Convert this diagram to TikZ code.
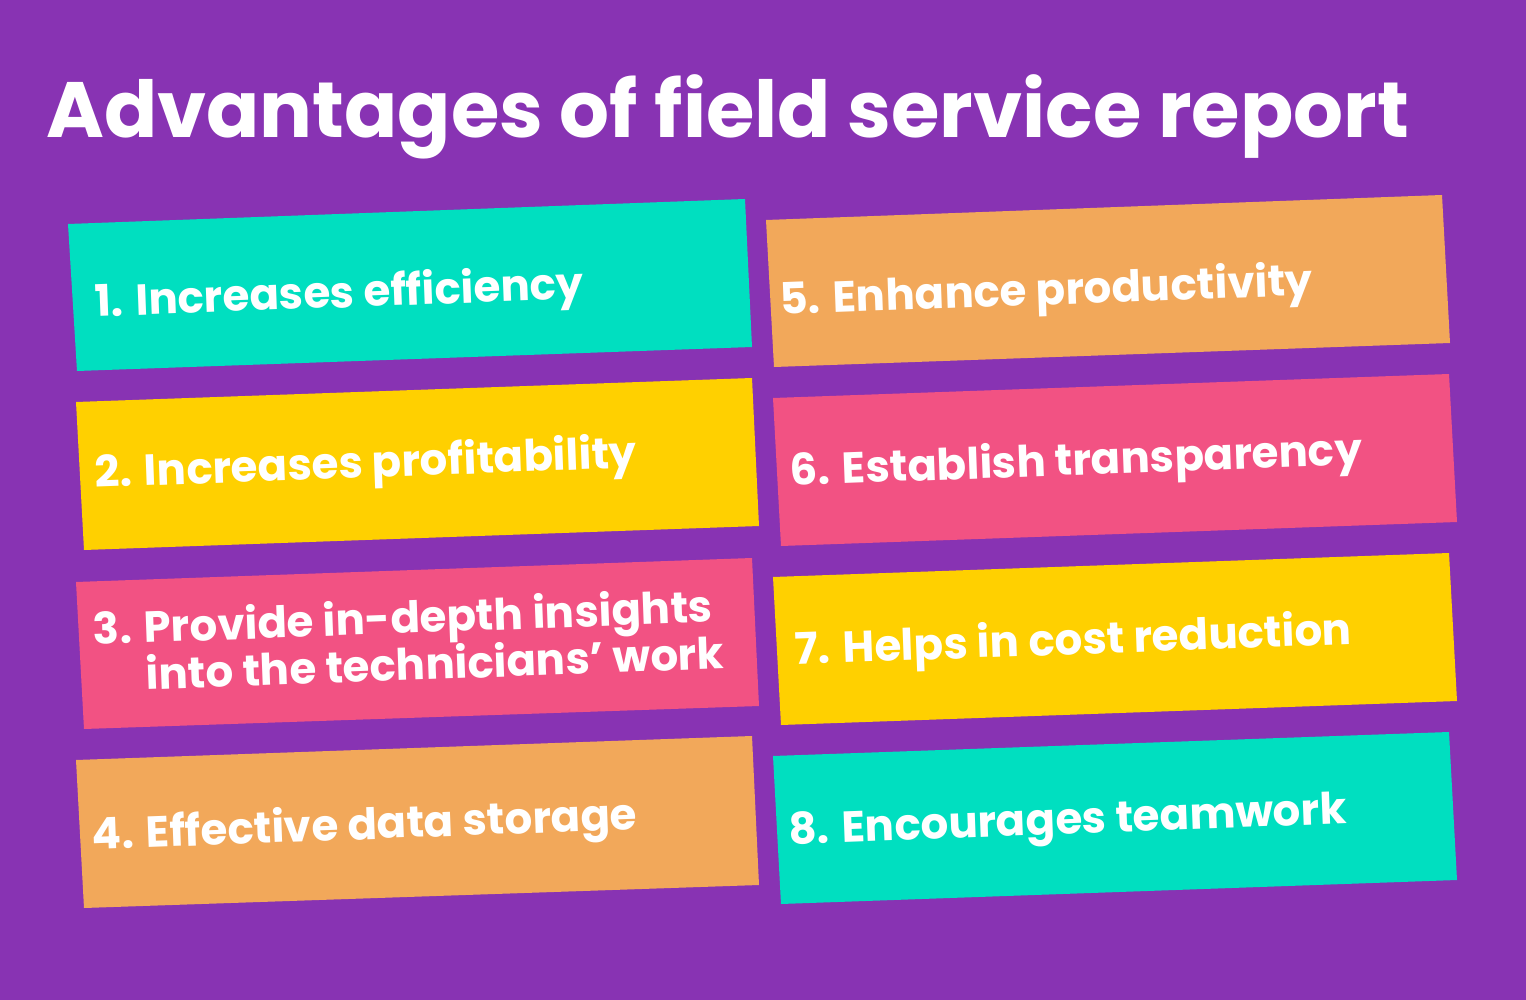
\documentclass[tikz,border=0pt]{standalone}
\usepackage{fontspec}
\setmainfont{Poppins}
\definecolor{bg}{HTML}{8833B3}
\definecolor{teal}{HTML}{00DFC0}
\definecolor{org}{HTML}{F2A85A}
\definecolor{yel}{HTML}{FFD000}
\definecolor{pnk}{HTML}{F25283}
\tikzset{lbl/.style={anchor=west,rotate=2.1,text=white,font=\fontsize{43.5}{47}\selectfont\bfseries,inner sep=0pt,align=left}}
\begin{document}
\begin{tikzpicture}[x=1pt,y=-1pt]
\fill[bg] (0,0) rectangle (1526,1000);
\useasboundingbox (0,0) rectangle (1526,1000);
\node[anchor=base west,text=white,inner sep=0pt,font=\fontsize{78.5}{84}\selectfont\bfseries] (title) at (46,138) {Advantages of field service report};
\fill[teal] (68,224) -- (745,199) -- (752,347) -- (77,371) -- cycle;
\fill[org] (766,220) -- (1442,195) -- (1450,343) -- (774,367) -- cycle;
\fill[yel] (76,402) -- (752,378) -- (759,526) -- (84,550) -- cycle;
\fill[pnk] (773,398) -- (1449,374) -- (1457,522) -- (781,546) -- cycle;
\fill[pnk] (76,582) -- (752,558) -- (759,706) -- (84,729) -- cycle;
\fill[yel] (773,577) -- (1449,553) -- (1457,701) -- (781,725) -- cycle;
\fill[org] (76,760) -- (752,736) -- (759,885) -- (84,908) -- cycle;
\fill[teal] (773,756) -- (1449,732) -- (1457,880) -- (781,904) -- cycle;
\node[lbl] (t1) at (95,305) {1. Increases efficiency};
\node[lbl] (t5) at (780,303) {5. Enhance productivity};
\node[lbl] (t2) at (95,476) {2. Increases profitability};
\node[lbl] (t6) at (790,474) {6. Establish transparency};
\node[lbl] (t3) at (94,651) {3. Provide in-depth insights\\\hphantom{3. }into the technicians’ work};
\node[lbl] (t7) at (795,653) {7. Helps in cost reduction};
\node[lbl] (t4) at (92,838) {4. Effective data storage};
\node[lbl] (t8) at (789,834) {8. Encourages teamwork};
\end{tikzpicture}
\end{document}
